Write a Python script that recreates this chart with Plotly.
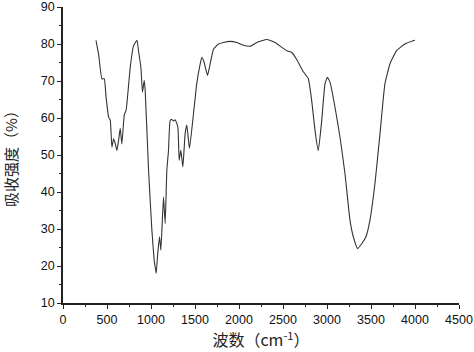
import plotly.graph_objects as go

wavenumber = [375, 404, 442, 469, 490, 518, 537, 556, 575, 595, 612, 632, 650, 669, 696, 718,
              764, 801, 840, 858, 885, 903, 923, 934, 972, 1010, 1036, 1047, 1059, 1075, 1097,
              1112, 1142, 1161, 1180, 1199, 1218, 1236, 1255, 1275, 1305, 1320, 1339, 1362, 1388,
              1407, 1437, 1483, 1520, 1558, 1578, 1604, 1642, 1672, 1710, 1767, 1823, 1899, 1975,
              2032, 2126, 2202, 2316, 2410, 2486, 2543, 2600, 2656, 2731, 2788, 2826, 2864, 2901,
              2940, 2977, 3004, 3034, 3091, 3148, 3204, 3261, 3299, 3348, 3394, 3443, 3488, 3545,
              3602, 3658, 3715, 3791, 3885, 3980, 4000]
absorb = [81.0, 77.3, 70.6, 70.6, 65.5, 60.3, 59.4, 52.1, 54.4, 53.0, 51.2, 54.0, 57.2, 53.0, 60.8, 62.2,
          73.7, 79.5, 81.0, 78.2, 73.7, 67.0, 70.2, 67.4, 46.0, 29.7, 21.6, 19.8, 18.0, 23.0, 27.9,
          24.3, 38.7, 31.5, 45.9, 51.3, 59.4, 59.6, 59.2, 59.5, 57.6, 48.6, 51.3, 46.8, 55.8,
          58.1, 51.8, 61.2, 69.3, 74.5, 76.4, 75.0, 71.5, 74.6, 78.6, 80.0, 80.4, 80.7, 80.4,
          79.8, 79.4, 80.4, 81.2, 80.4, 79.1, 78.2, 77.7, 75.8, 72.5, 70.6, 64.7, 56.6, 51.2,
          59.3, 69.2, 71.0, 69.7, 62.9, 54.8, 45.0, 32.4, 27.9, 24.7, 26.0, 27.9, 32.4, 42.3,
          55.7, 69.2, 74.6, 78.2, 80.0, 80.9, 81.0]

x_ticks = [0, 500, 1000, 1500, 2000, 2500, 3000, 3500, 4000, 4500]
y_ticks = [10, 20, 30, 40, 50, 60, 70, 80, 90]

fig = go.Figure()
fig.add_trace(go.Scatter(x=wavenumber, y=absorb, mode="lines",
                         line=dict(color="#333333", width=1.1, shape="spline", smoothing=0.4),
                         showlegend=False))

tick_font = dict(family="Liberation Sans, Arial, sans-serif", size=12.5, color="#111")
cjk = "Noto Sans CJK SC, sans-serif"

fig.update_layout(
    width=474, height=352,
    margin=dict(l=63, r=15, t=7, b=49),
    paper_bgcolor="white", plot_bgcolor="white",
    xaxis=dict(range=[0, 4500], tickvals=x_ticks, ticktext=[str(v) for v in x_ticks],
               automargin=False,
               showline=True, linecolor="#222", linewidth=1.5, mirror=False,
               ticks="outside", ticklen=4, tickwidth=1.3, tickcolor="#222",
               minor=dict(dtick=250, ticks="outside", ticklen=2.5, tickwidth=1.2, tickcolor="#222"),
               showgrid=False, zeroline=False, tickfont=tick_font,
               title=dict(text="波数（cm<sup>-1</sup>）", font=dict(family=cjk, size=16, color="#222"),
                          standoff=6)),
    yaxis=dict(range=[10, 90], tickvals=y_ticks, ticktext=[str(v) for v in y_ticks],
               automargin=False,
               showline=True, linecolor="#222", linewidth=1.5, mirror=False,
               ticks="outside", ticklen=4, tickwidth=1.3, tickcolor="#222",
               minor=dict(dtick=5, ticks="outside", ticklen=2.5, tickwidth=1.2, tickcolor="#222"),
               showgrid=False, zeroline=False, tickfont=tick_font,
               title=dict(text="吸收强度（%）", font=dict(family=cjk, size=15, color="#222"),
                          standoff=26)),
)

fig.write_html("out.html")
